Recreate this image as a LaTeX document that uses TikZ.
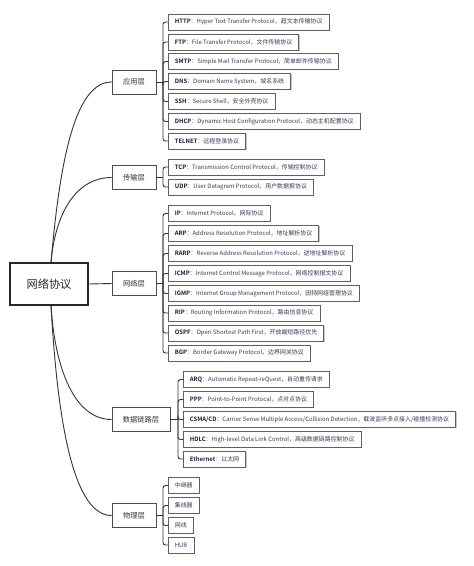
\documentclass[tikz,border=0pt]{standalone}
\usepackage{fontspec}
\setmainfont{Noto Sans CJK SC}[BoldFont={Noto Sans CJK SC Bold}]
\usetikzlibrary{shadows}
\definecolor{leaftext}{HTML}{3A3A55}
\definecolor{abcol}{HTML}{1C1C38}
\definecolor{boxline}{HTML}{606060}
\newcommand\lfab[1]{{\bfseries\color{abcol}#1}}
\begin{document}
\begin{tikzpicture}[x=1pt,y=-1pt,
  every node/.style={font=\fontsize{5.95}{7}\selectfont},
  boxbase/.style={draw=boxline, line width=0.65pt, fill=white,
    drop shadow={shadow xshift=0.9pt, shadow yshift=-0.9pt, fill=black!22, opacity=1}},
  leaf/.style={boxbase, anchor=west, minimum height=16pt, inner xsep=6.5pt, inner ysep=0pt, text=leaftext},
  lone/.style={boxbase, draw=black!70, minimum width=44pt, minimum height=24pt, inner sep=0pt,
    font=\fontsize{7.3}{9}\selectfont, text=black!80},
  rootbox/.style={draw=black!85, line width=1.1pt, fill=white, minimum width=78pt, minimum height=42pt,
    font=\fontsize{11.2}{13}\selectfont, text=black!85},
  conn/.style={draw=black!80, line width=0.9pt},
  brk/.style={draw=black!80, line width=0.9pt, rounded corners=2.5pt}
]
\useasboundingbox[fill=white] (0,0) rectangle (474,566);

% root
\node[rootbox] (root) at (49,284) {网络协议};

% level 1
\node[lone] (app) at (134,82) {应用层};
\node[lone] (tra) at (134,177.5) {传输层};
\node[lone] (net) at (134,283.5) {网络层};
\node[lone, minimum width=58pt] (dll) at (141,419.5) {数据链路层};
\node[lone] (phy) at (134,515.5) {物理层};

% root connectors
\draw[conn] ([xshift=2pt]root.north) .. controls (60,160) and (75,82) .. (app.west);
\draw[conn] ([xshift=2pt]root.north) .. controls (55,215) and (75,177.5) .. (tra.west);
\draw[conn] (root.east) -- (net.west);
\draw[conn] ([xshift=2pt]root.south) .. controls (55,370) and (75,419.5) .. (dll.west);
\draw[conn] ([xshift=2pt]root.south) .. controls (58,430) and (75,515.5) .. (phy.west);

% application layer
\node[leaf] (a1) at (168,22) {\lfab{HTTP}：Hyper Text Transfer Protocol，超文本传输协议};
\node[leaf] (a2) at (168,42) {\lfab{FTP}：File Transfer Protocol，文件传输协议};
\node[leaf] (a3) at (168,61.5) {\lfab{SMTP}：Simple Mail Transfer Protocol，简单邮件传输协议};
\node[leaf] (a4) at (168,81.5) {\lfab{DNS}：Domain Name System，域名系统};
\node[leaf] (a5) at (168,101.5) {\lfab{SSH}：Secure Shell，安全外壳协议};
\node[leaf] (a6) at (168,121.5) {\lfab{DHCP}：Dynamic Host Configuration Protocol，动态主机配置协议};
\node[leaf] (a7) at (168,141) {\lfab{TELNET}：远程登录协议};
\coordinate (ab) at (163,82);
\draw[conn] (app.east) -- (ab);
\foreach \n in {a1,a2,a3,a4,a5,a6,a7} \draw[brk] (ab) |- (\n.west);

% transport layer
\node[leaf] (t1) at (168,167) {\lfab{TCP}：Transmission Control Protocol，传输控制协议};
\node[leaf] (t2) at (168,187) {\lfab{UDP}：User Datagram Protocol，用户数据报协议};
\coordinate (tb) at (163,177.5);
\draw[conn] (tra.east) -- (tb);
\foreach \n in {t1,t2} \draw[brk] (tb) |- (\n.west);

% network layer
\node[leaf] (n1) at (168,213.5) {\lfab{IP}：Internet Protocol，网际协议};
\node[leaf] (n2) at (168,233.5) {\lfab{ARP}：Address Resolution Protocol，地址解析协议};
\node[leaf] (n3) at (168,253.5) {\lfab{RARP}：Reverse Address Resolution Protocol，逆地址解析协议};
\node[leaf] (n4) at (168,273.5) {\lfab{ICMP}：Internet Control Message Protocol，网络控制报文协议};
\node[leaf] (n5) at (168,293.5) {\lfab{IGMP}：Internet Group Management Protocol，因特网组管理协议};
\node[leaf] (n6) at (168,313) {\lfab{RIP}：Routing Information Protocol，路由信息协议};
\node[leaf] (n7) at (168,333) {\lfab{OSPF}：Open Shortest Path First，开放最短路径优先};
\node[leaf] (n8) at (168,353) {\lfab{BGP}：Border Gateway Protocol，边界网关协议};
\coordinate (nb) at (163,283.5);
\draw[conn] (net.east) -- (nb);
\foreach \n in {n1,n2,n3,n4,n5,n6,n7,n8} \draw[brk] (nb) |- (\n.west);

% data link layer
\node[leaf] (d1) at (183,379.5) {\lfab{ARQ}：Automatic Repeat-reQuest，自动重传请求};
\node[leaf] (d2) at (183,399.5) {\lfab{PPP}：Point-to-Point Protocal，点对点协议};
\node[leaf] (d3) at (183,419.5) {\lfab{CSMA/CD}：Carrier Sense Multiple Access/Collision Detection，载波监听多点接入/碰撞检测协议};
\node[leaf] (d4) at (183,439.5) {\lfab{HDLC}：High-level Data Link Control，高级数据链路控制协议};
\node[leaf] (d5) at (183,459) {\lfab{Ethernet}：以太网};
\coordinate (db) at (178,419.5);
\draw[conn] (dll.east) -- (db);
\foreach \n in {d1,d2,d3,d4,d5} \draw[brk] (db) |- (\n.west);

% physical layer
\node[leaf] (p1) at (168,485.5) {中继器};
\node[leaf] (p2) at (168,505.5) {集线器};
\node[leaf] (p3) at (168,525.5) {网线};
\node[leaf] (p4) at (168,545) {HUB};
\coordinate (pb) at (163,515.5);
\draw[conn] (phy.east) -- (pb);
\foreach \n in {p1,p2,p3,p4} \draw[brk] (pb) |- (\n.west);
\end{tikzpicture}
\end{document}
